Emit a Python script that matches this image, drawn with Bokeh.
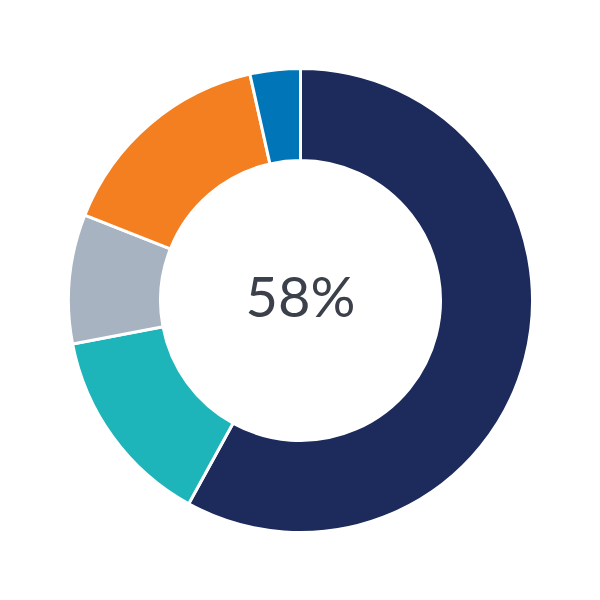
import numpy as np
from bokeh.plotting import figure
from bokeh.models import ColumnDataSource
from bokeh.core.properties import value
from bokeh.embed import file_html
from bokeh.resources import INLINE

# slices, clockwise from 12 o'clock
labels = ['A', 'B', 'C', 'D', 'E']
shares = [58, 14, 9, 15.5, 3.5]
colors = ['#1d2b5c', '#1db5b9', '#a8b3c1', '#f47f20', '#0075b8']
center_label = '58%'

frac = np.array(shares) / sum(shares)
ends = np.pi / 2 - 2 * np.pi * np.cumsum(frac)
starts = np.concatenate([[np.pi / 2], ends[:-1]])

src = ColumnDataSource(dict(label=labels, start=starts, end=ends, color=colors))

p = figure(width=584, height=584, x_range=(-300, 284), y_range=(-284, 300),
           output_backend="svg", toolbar_location=None, min_border=0)
p.annular_wedge(x=0, y=0, inner_radius=140, outer_radius=232,
                start_angle='start', end_angle='end', direction='clock',
                fill_color='color', line_color='white', line_width=3, source=src)

p.text(x=[0], y=[5], text=[center_label], text_font=value("Lato"),
       text_font_size='56px', text_color='#3b404a',
       text_align='center', text_baseline='middle')

p.axis.visible = False
p.grid.visible = False
p.outline_line_color = None

open("out.html", "w").write(file_html(p, INLINE))
